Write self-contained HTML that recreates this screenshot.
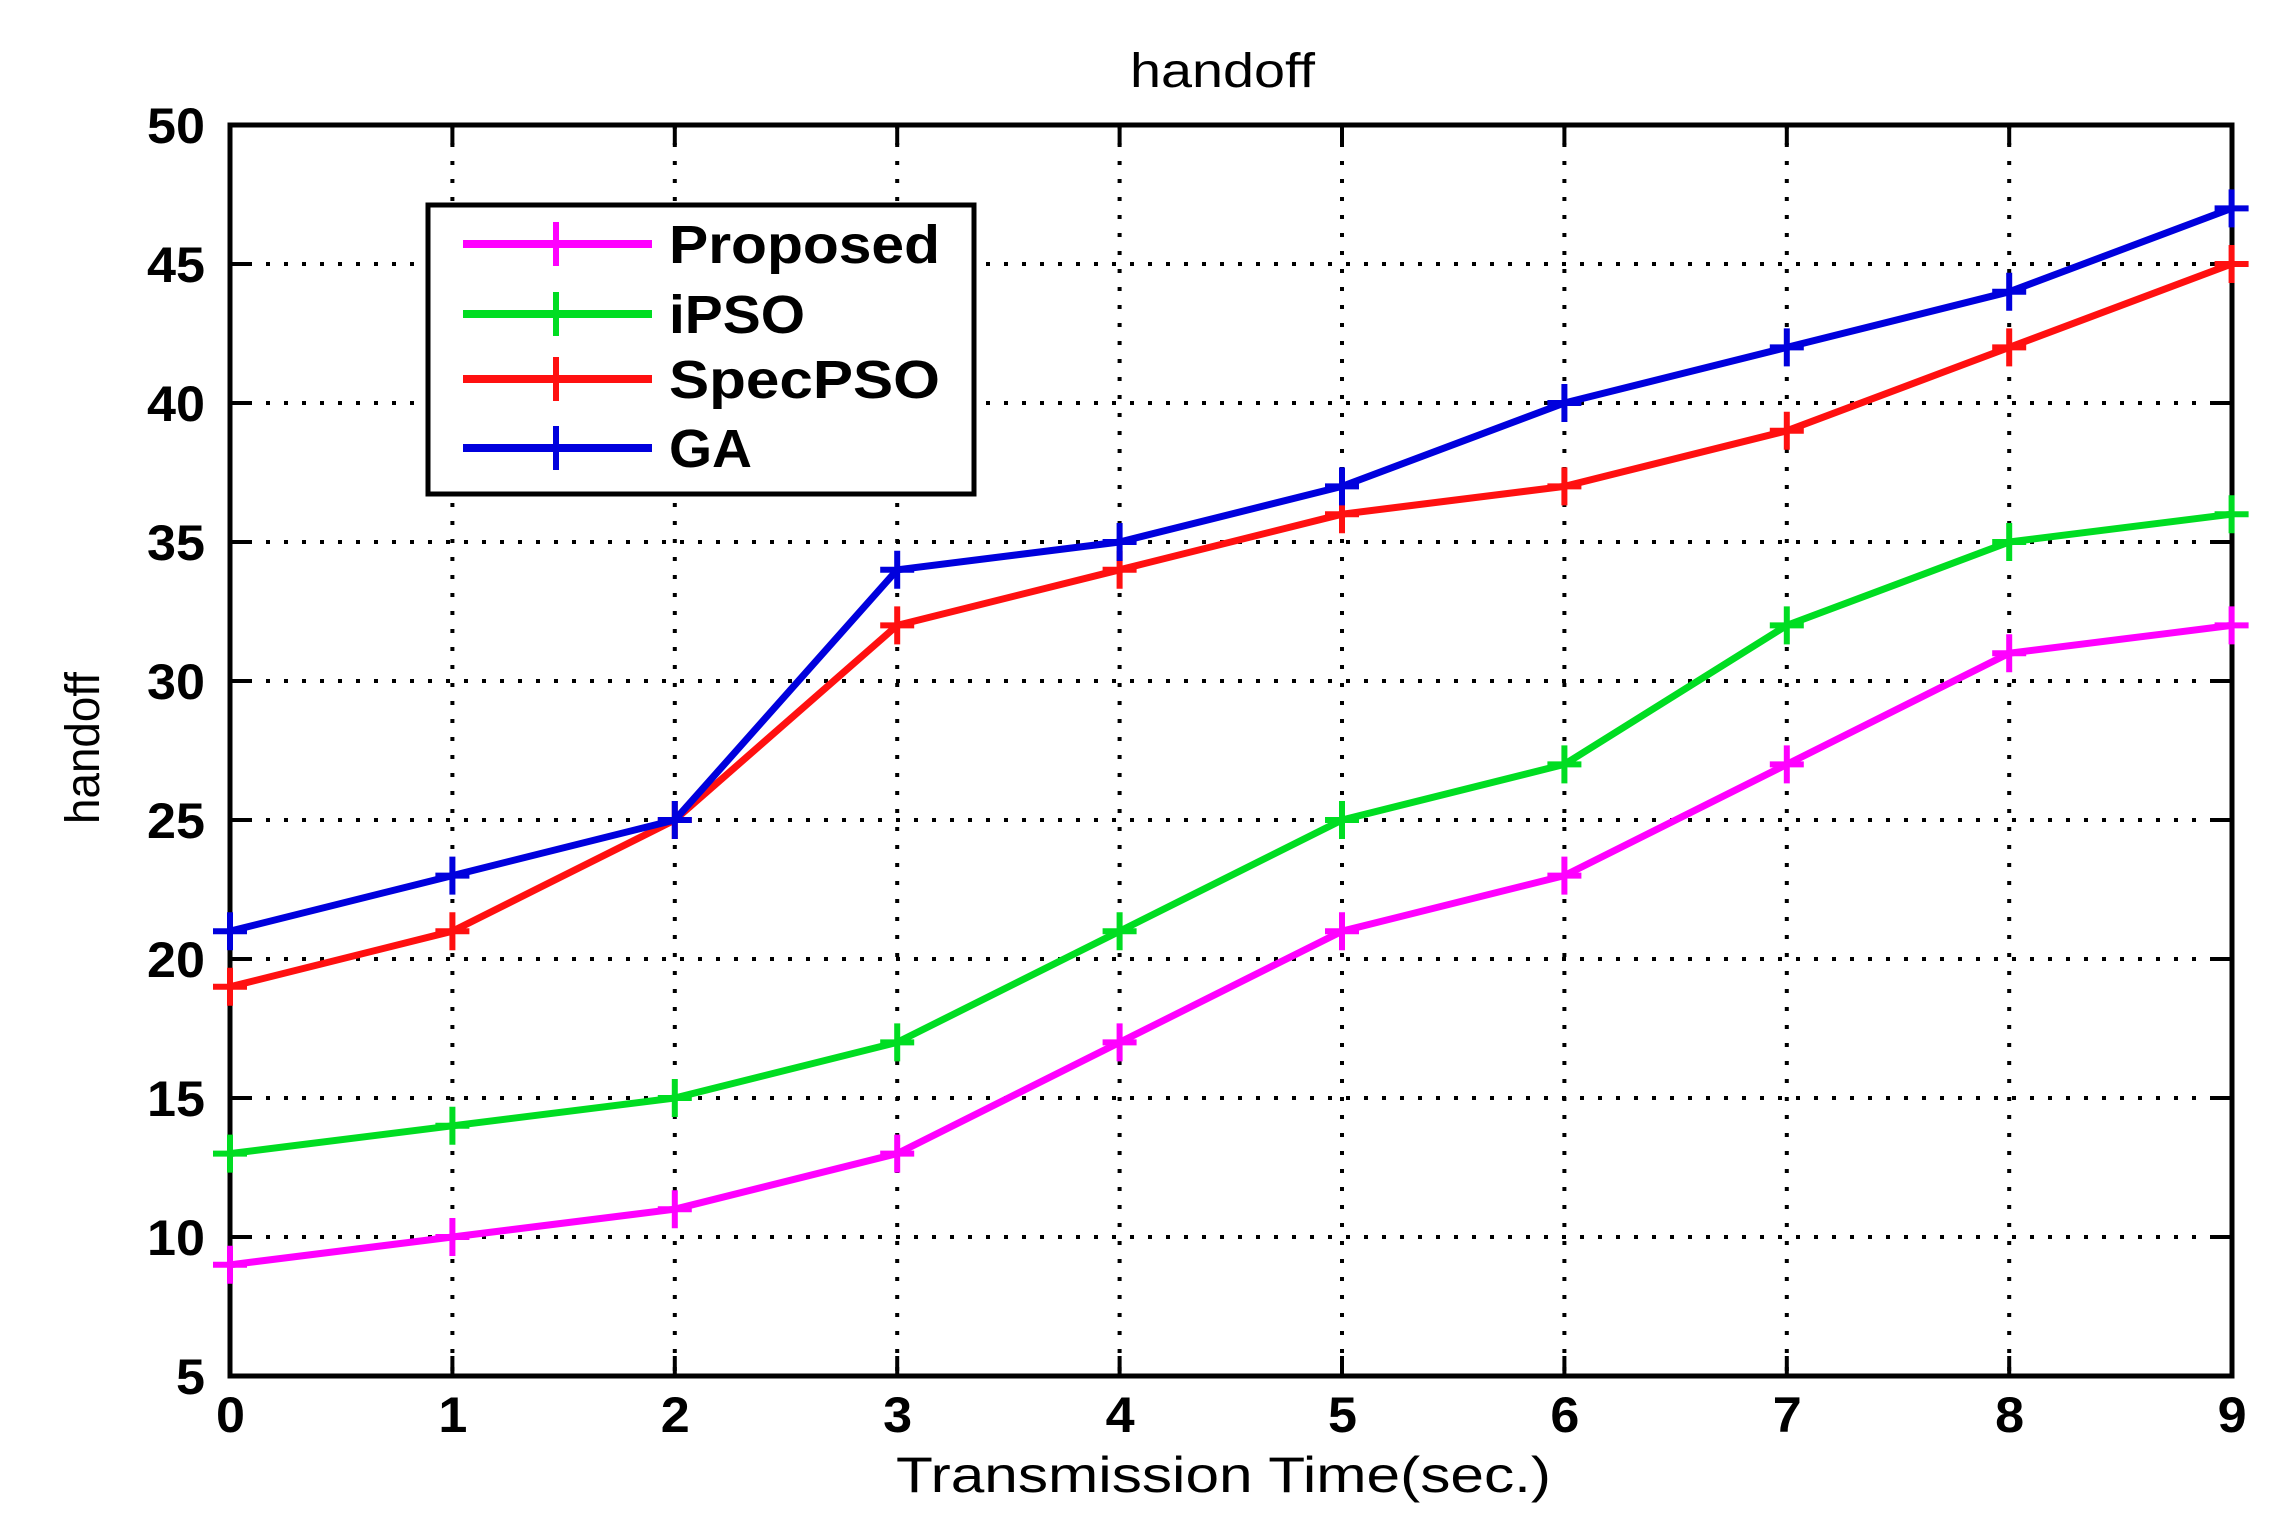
<!DOCTYPE html>
<html><head><meta charset="utf-8"><style>html,body{margin:0;padding:0;background:#fff}svg{display:block}</style></head>
<body>
<svg xmlns="http://www.w3.org/2000/svg" width="2284" height="1536" viewBox="0 0 2284 1536">
<rect width="2284" height="1536" fill="#fff"/>
<g id="grid" stroke="#000" stroke-width="4" stroke-dasharray="4 14">
</g>
<script>
(function(){
var ns="http://www.w3.org/2000/svg";
var svg=document.currentScript.parentNode;
function X(v){return 230+v*222.4;}
function Y(v){return 1376-(v-5)*27.8;}
function el(n,a,p){var e=document.createElementNS(ns,n);for(var k in a)e.setAttribute(k,a[k]);(p||svg).appendChild(e);return e;}
var g=document.getElementById('grid');
for(var i=1;i<9;i++){el('line',{x1:X(i),y1:125,x2:X(i),y2:1376},g);}
for(var v=10;v<50;v+=5){el('line',{x1:230,y1:Y(v),x2:2232,y2:Y(v)},g);}
for(var i=0;i<=9;i++){el('line',{x1:X(i),y1:1376,x2:X(i),y2:1356,stroke:'#000','stroke-width':4});el('line',{x1:X(i),y1:125,x2:X(i),y2:145,stroke:'#000','stroke-width':4});
 var t=el('text',{x:X(i)-14,y:1432,'font-family':'Liberation Sans, sans-serif','font-weight':'bold','font-size':50,textLength:29,lengthAdjust:'spacingAndGlyphs'});t.textContent=i;}
for(var v=5;v<=50;v+=5){el('line',{x1:230,y1:Y(v),x2:250,y2:Y(v),stroke:'#000','stroke-width':4});el('line',{x1:2232,y1:Y(v),x2:2212,y2:Y(v),stroke:'#000','stroke-width':4});
 var w=v<10?29:58;
 var t=el('text',{x:205-w,y:Y(v)+18,'font-family':'Liberation Sans, sans-serif','font-weight':'bold','font-size':50,textLength:w,lengthAdjust:'spacingAndGlyphs'});t.textContent=v;}
el('rect',{x:230,y:125,width:2002,height:1251,fill:'none',stroke:'#000','stroke-width':5});
var S=[['#ff00ff',[9,10,11,13,17,21,23,27,31,32]],['#00dd22',[13,14,15,17,21,25,27,32,35,36]],['#ff1010',[19,21,25,32,34,36,37,39,42,45]],['#0000dd',[21,23,25,34,35,37,40,42,44,47]]];
S.forEach(function(s){var pts=s[1].map(function(v,i){return X(i)+','+Y(v);}).join(' ');
 el('polyline',{points:pts,fill:'none',stroke:s[0],'stroke-width':7,'stroke-linejoin':'round'});
 s[1].forEach(function(v,i){var x=X(i),y=Y(v);el('path',{d:'M'+(x-17)+' '+y+'H'+(x+17)+'M'+x+' '+(y-19)+'V'+(y+19),stroke:s[0],'stroke-width':6});});});
el('rect',{x:428,y:205,width:546,height:289,fill:'#fff',stroke:'#000','stroke-width':5});
var names=['Proposed','iPSO','SpecPSO','GA'],ys=[244,314,379,448],lens=[271,136,271,83];
for(var k=0;k<4;k++){var y=ys[k];el('line',{x1:463,y1:y,x2:652,y2:y,stroke:S[k][0],'stroke-width':8});
 el('path',{d:'M556 '+(y-22)+'V'+(y+22),stroke:S[k][0],'stroke-width':6});
 var t=el('text',{x:669,y:y+19,'font-family':'Liberation Sans, sans-serif','font-weight':'bold','font-size':54,textLength:lens[k],lengthAdjust:'spacingAndGlyphs'});t.textContent=names[k];}
})();
</script>
<text x="1130" y="87" font-family="Liberation Sans, sans-serif" font-size="48" textLength="185" lengthAdjust="spacingAndGlyphs">handoff</text>
<text x="896" y="1492" font-family="Liberation Sans, sans-serif" font-size="50" textLength="655" lengthAdjust="spacingAndGlyphs">Transmission Time(sec.)</text>
<text transform="translate(99,824) rotate(-90)" font-family="Liberation Sans, sans-serif" font-size="48" textLength="152" lengthAdjust="spacingAndGlyphs">handoff</text>
</svg>
</body></html>
